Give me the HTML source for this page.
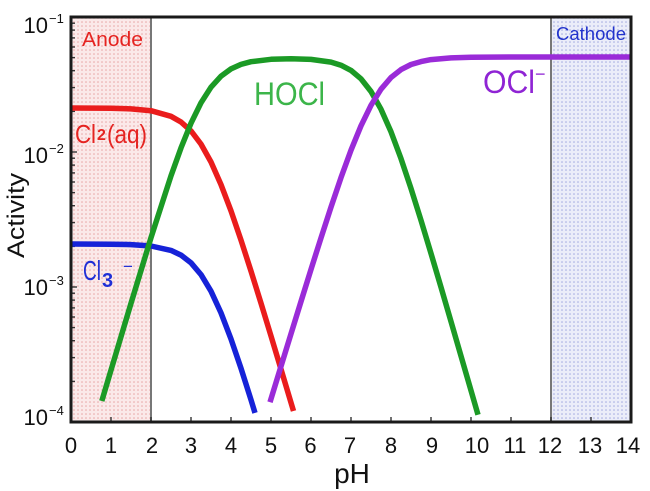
<!DOCTYPE html>
<html><head><meta charset="utf-8"><style>
html,body{margin:0;padding:0;background:#fff;}
svg{display:block;}
text{font-family:"Liberation Sans",sans-serif;}
</style></head><body>
<svg width="650" height="491" viewBox="0 0 650 491" xmlns="http://www.w3.org/2000/svg">
<defs>
<pattern id="pa" width="4" height="4" patternUnits="userSpaceOnUse">
<rect width="4" height="4" fill="#fbe9e9"/>
<circle cx="2" cy="2" r="0.8" fill="#e8a6a6"/>
</pattern>
<pattern id="pc" width="4" height="4" patternUnits="userSpaceOnUse">
<rect width="4" height="4" fill="#ebedf9"/>
<circle cx="2" cy="2" r="0.8" fill="#a3aae0"/>
</pattern>
</defs>
<rect x="71" y="17" width="80" height="405" fill="url(#pa)"/>
<rect x="551" y="17" width="80" height="405" fill="url(#pc)"/>
<line x1="151" y1="17" x2="151" y2="422" stroke="#777" stroke-width="2"/>
<line x1="551" y1="17" x2="551" y2="422" stroke="#777" stroke-width="2"/>

<g stroke="#333" stroke-width="1.4">
<line x1="71" y1="381.4" x2="75" y2="381.4"/><line x1="71" y1="357.6" x2="75" y2="357.6"/><line x1="71" y1="340.7" x2="75" y2="340.7"/><line x1="71" y1="327.6" x2="75" y2="327.6"/><line x1="71" y1="317" x2="75" y2="317"/><line x1="71" y1="307.9" x2="75" y2="307.9"/><line x1="71" y1="300.1" x2="75" y2="300.1"/><line x1="71" y1="293.2" x2="75" y2="293.2"/>
<line x1="71" y1="287" x2="77" y2="287"/>
<line x1="71" y1="246.4" x2="75" y2="246.4"/><line x1="71" y1="222.6" x2="75" y2="222.6"/><line x1="71" y1="205.7" x2="75" y2="205.7"/><line x1="71" y1="192.6" x2="75" y2="192.6"/><line x1="71" y1="182" x2="75" y2="182"/><line x1="71" y1="172.9" x2="75" y2="172.9"/><line x1="71" y1="165.1" x2="75" y2="165.1"/><line x1="71" y1="158.2" x2="75" y2="158.2"/>
<line x1="71" y1="152" x2="77" y2="152"/>
<line x1="71" y1="111.4" x2="75" y2="111.4"/><line x1="71" y1="87.6" x2="75" y2="87.6"/><line x1="71" y1="70.7" x2="75" y2="70.7"/><line x1="71" y1="57.6" x2="75" y2="57.6"/><line x1="71" y1="47" x2="75" y2="47"/><line x1="71" y1="37.9" x2="75" y2="37.9"/><line x1="71" y1="30.1" x2="75" y2="30.1"/><line x1="71" y1="23.2" x2="75" y2="23.2"/>
<line x1="111" y1="422" x2="111" y2="417"/><line x1="151" y1="422" x2="151" y2="417"/><line x1="191" y1="422" x2="191" y2="417"/><line x1="231" y1="422" x2="231" y2="417"/><line x1="271" y1="422" x2="271" y2="417"/><line x1="311" y1="422" x2="311" y2="417"/><line x1="351" y1="422" x2="351" y2="417"/><line x1="391" y1="422" x2="391" y2="417"/><line x1="431" y1="422" x2="431" y2="417"/><line x1="471" y1="422" x2="471" y2="417"/><line x1="511" y1="422" x2="511" y2="417"/><line x1="551" y1="422" x2="551" y2="417"/><line x1="591" y1="422" x2="591" y2="417"/>
</g>

<g fill="none" stroke-width="5.5" stroke-linejoin="round" stroke-linecap="butt">
<polyline stroke="#1622d8" points="71,244 111,244.2 131,244.6 151,246 171,250.4 181,255.1 191,262.8 201,274.6 211,291.2 221,312.9 231,339 241,368.3 251,399.8 255,412.9"/>
<polyline stroke="#ea1c1c" points="71,108 111,108.3 131,108.9 151,110.7 171,116.3 181,122 191,130.9 201,144.1 211,162 221,184.6 231,210.9 241,240.1 251,271.1 261,303.2 271,336 281,369.2 293.5,411"/>
<polyline stroke="#1b9a25" points="101.8,401 111,370.1 131,303.3 151,237.7 171,175.8 181,147.9 191,123.2 201,102.8 211,87.2 221,76.2 231,68.9 241,64.4 251,61.7 271,59.3 291,58.8 311,59.4 331,62.1 341,65.2 351,70.4 361,78.8 371,91.5 381,109.2 391,131.8 401,158.6 411,188.5 421,220.3 431,253.4 441,287.2 451,321.5 461,356 471,390.5 478,414.8"/>
<polyline stroke="#9a2bd8" points="270,402.2 281,366.3 291,333.8 301,301.5 311,269.4 321,237.9 331,207.1 341,177.6 351,150.2 361,125.8 371,105.3 381,89.2 391,77.5 401,69.6 411,64.5 421,61.6 431,59.6 451,57.9 471,57.3 511,57 629.5,57"/>
</g>

<rect x="71" y="17" width="560" height="405" fill="none" stroke="#1a1a1a" stroke-width="3"/>

<g font-size="22" fill="#111">
<text x="48" y="33" text-anchor="end">10</text>
<text x="48" y="163" text-anchor="end">10</text>
<text x="48" y="295" text-anchor="end">10</text>
<text x="48" y="425" text-anchor="end">10</text>
</g>
<g font-size="13" fill="#111">
<text x="49" y="23">−1</text>
<text x="49" y="153">−2</text>
<text x="49" y="285">−3</text>
<text x="49" y="415">−4</text>
</g>
<g font-size="22" fill="#111" text-anchor="middle">
<text x="71" y="453">0</text><text x="111" y="453">1</text><text x="152" y="453">2</text><text x="191" y="453">3</text><text x="231" y="453">4</text><text x="271" y="453">5</text><text x="310.5" y="453">6</text><text x="350" y="453">7</text><text x="391" y="453">8</text><text x="432" y="453">9</text><text x="477" y="453">10</text><text x="515" y="453">11</text><text x="550" y="453">12</text><text x="590" y="453">13</text><text x="628" y="453">14</text>
</g>
<text x="352" y="483" font-size="28" text-anchor="middle" fill="#111">pH</text>
<text transform="translate(24,215.5) rotate(-90)" font-size="24" text-anchor="middle" textLength="85" lengthAdjust="spacingAndGlyphs" fill="#111">Activity</text>

<text x="82" y="46" font-size="20" fill="#e52421" textLength="61" lengthAdjust="spacingAndGlyphs">Anode</text>
<text x="556" y="40" font-size="18.5" fill="#2233cc" textLength="70" lengthAdjust="spacingAndGlyphs">Cathode</text>

<text x="75" y="143" font-size="26" fill="#e52421" textLength="21" lengthAdjust="spacingAndGlyphs">Cl</text>
<text x="97" y="140" font-size="16" font-weight="bold" fill="#e52421">2</text>
<text x="107" y="143" font-size="26" fill="#e52421" textLength="40" lengthAdjust="spacingAndGlyphs">(aq)</text>

<text x="83" y="280" font-size="28" fill="#1f2fd6" textLength="18" lengthAdjust="spacingAndGlyphs">Cl</text>
<text x="102" y="287" font-size="20" font-weight="bold" fill="#1f2fd6">3</text>
<text x="123" y="272" font-size="17" fill="#1f2fd6">−</text>

<text x="254" y="105" font-size="32" fill="#3cb54a" textLength="71" lengthAdjust="spacingAndGlyphs">HOCl</text>

<text x="483" y="93" font-size="32" fill="#8f24d4" textLength="52" lengthAdjust="spacingAndGlyphs">OCl</text>
<text x="535" y="80" font-size="18" fill="#8f24d4">−</text>
</svg>
</body></html>
